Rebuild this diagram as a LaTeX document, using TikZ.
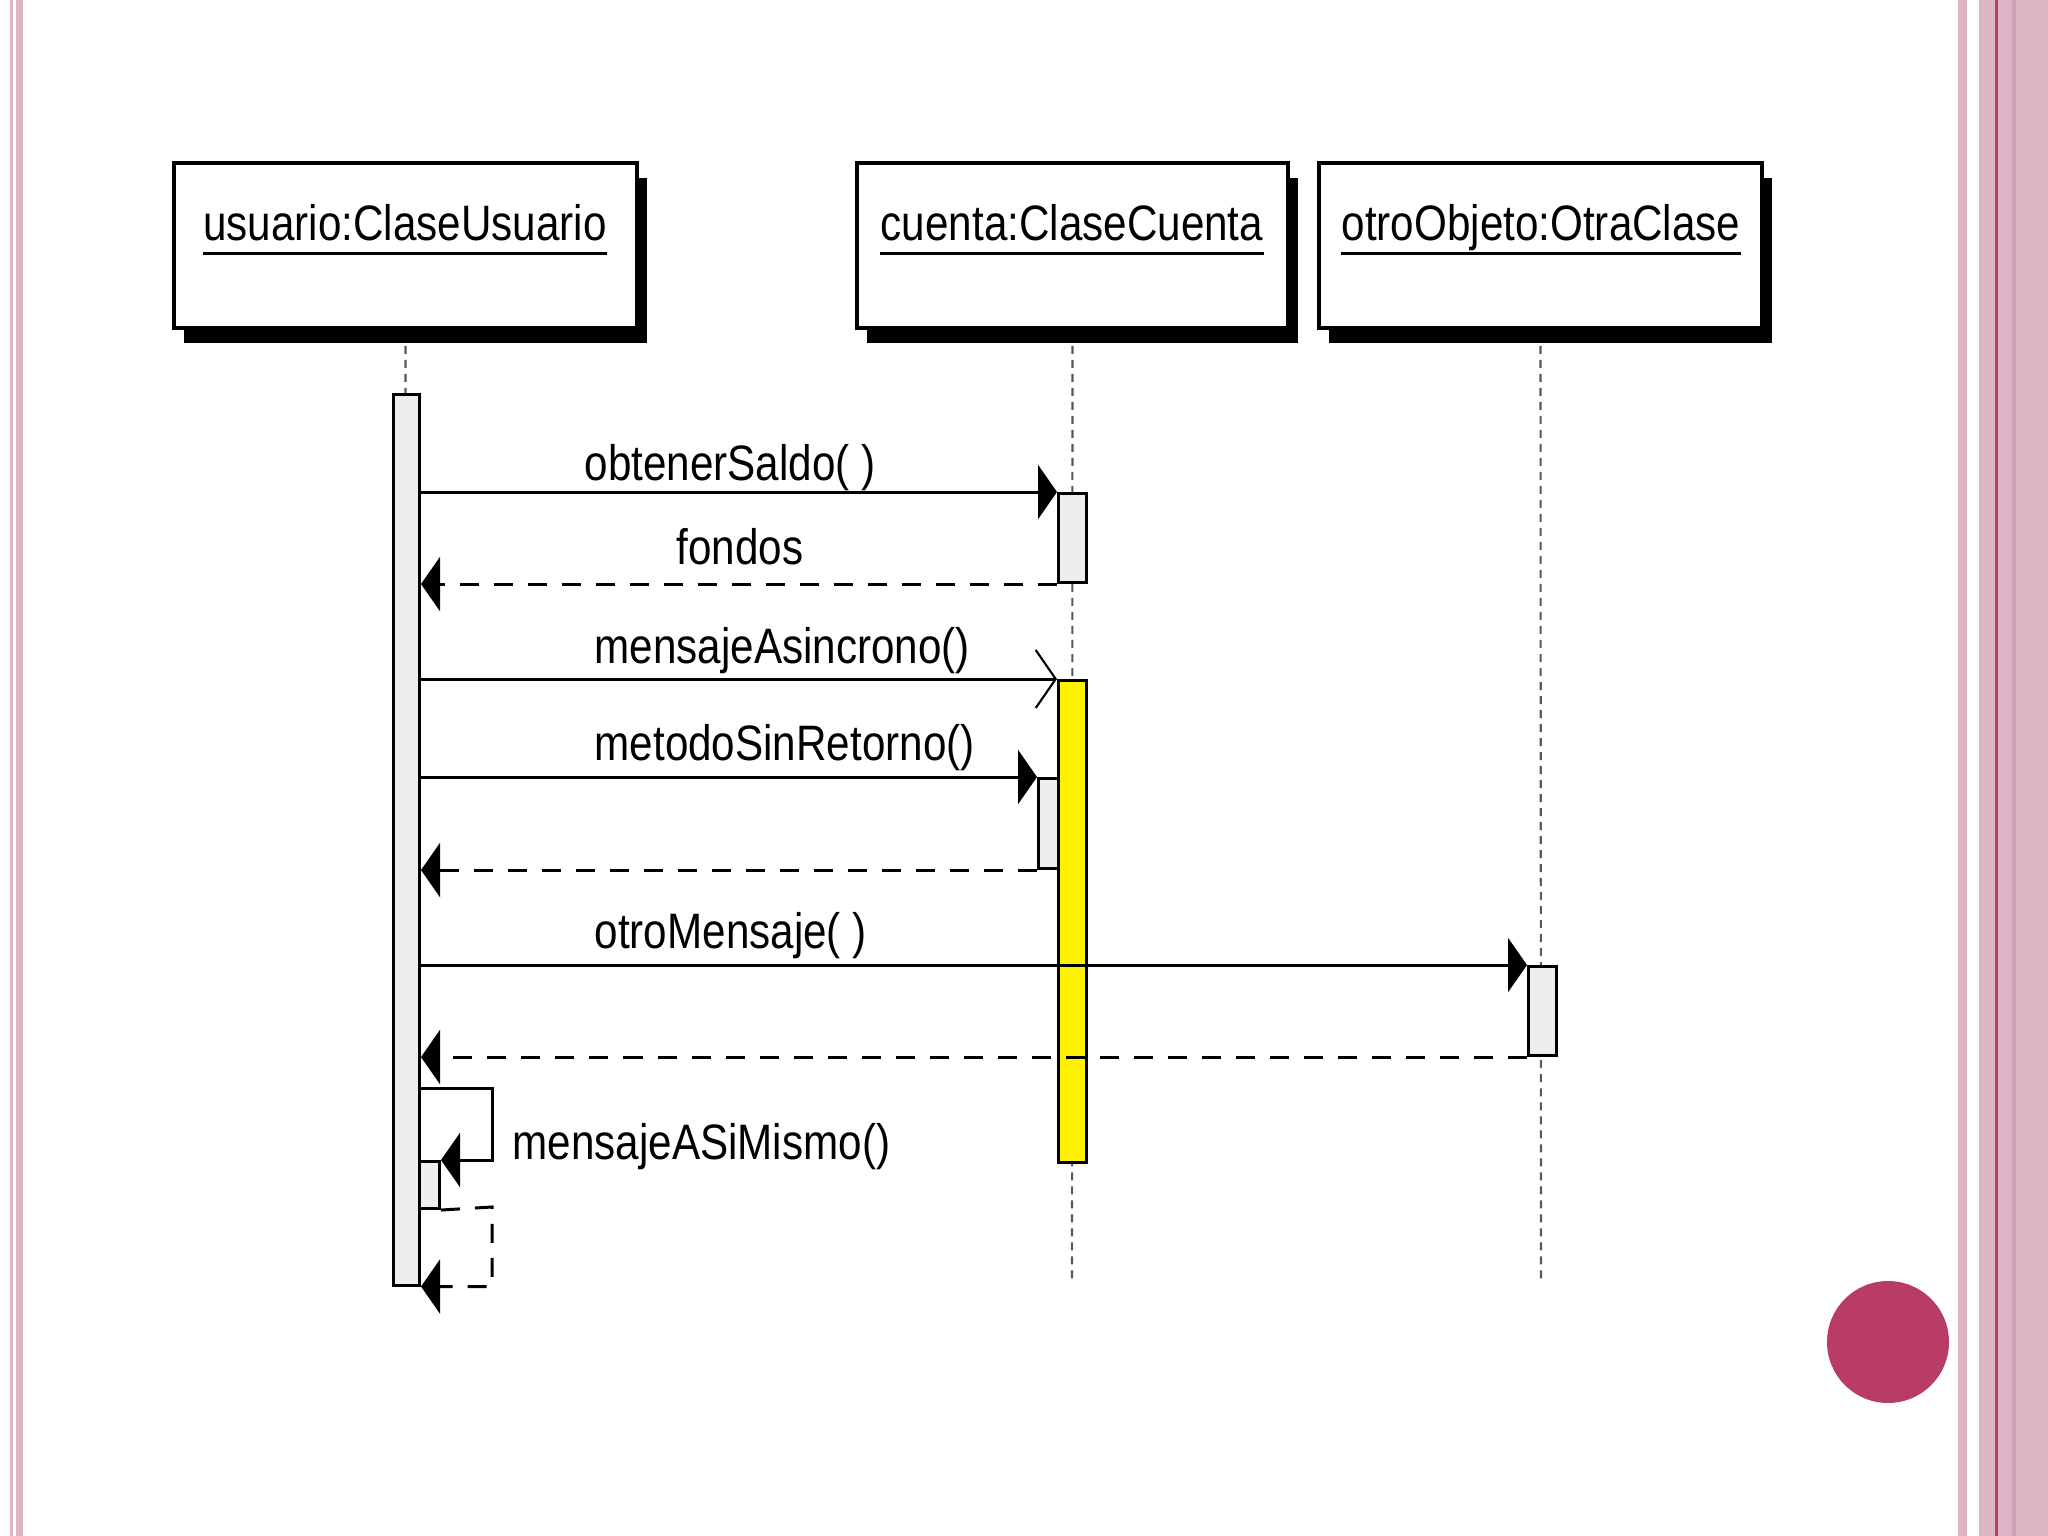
\documentclass[tikz,border=0pt]{standalone}
\usepackage{fontspec}
\setmainfont{Liberation Sans}
\usepackage{tikz}
\usetikzlibrary{positioning,arrows.meta,shadows}
\definecolor{slidepink}{RGB}{221,182,198}
\definecolor{slidepinkdark}{RGB}{208,160,180}
\definecolor{slidered}{RGB}{185,60,100}
\definecolor{actgray}{RGB}{238,238,238}
\newcommand{\umltext}[1]{\scalebox{1}[1.18]{#1}}

\begin{document}
\begin{tikzpicture}[x=0.01cm, y=-0.01cm,
            objbox/.style={draw, line width=1pt, fill=white, minimum height=1.65cm, inner sep=0pt,
                drop shadow={shadow xshift=0.1cm, shadow yshift=-0.15cm, opacity=1, fill=black}},
            objname/.style={font=\fontsize{12pt}{14pt}\selectfont, inner sep=0pt, anchor=base, text depth=0.13cm},
            lifeline/.style={draw=black!65, line width=0.6pt, dash pattern=on 0.08cm off 0.06cm},
            actbar/.style={draw, line width=0.85pt, fill=actgray, inner sep=0pt, anchor=north west},
            callmsg/.style={line width=0.85pt, -{Triangle[length=0.19cm, width=0.54cm]}},
            retmsg/.style={line width=0.85pt, dash pattern=on 0.19cm off 0.15cm, -{Triangle[length=0.19cm, width=0.54cm]}},
            asyncmsg/.style={line width=0.85pt, -{Straight Barb[length=0.2cm, width=0.58cm, line width=0.6pt]}},
            msglabel/.style={font=\fontsize{12pt}{14pt}\selectfont, inner sep=0pt, anchor=base west}
        ]
            \useasboundingbox (0,0) rectangle (2048,1536);

            % Slide
            \fill[white] (0,0) rectangle (2048,1536);
            \fill[slidepink] (10,0) rectangle (13,1536);
            \fill[slidepink] (16,0) rectangle (23,1536);
            \fill[slidepink] (1958,0) rectangle (1967,1536);
            \fill[slidepink] (1979,0) rectangle (2048,1536);
            \fill[slidepinkdark] (2012,0) rectangle (2016,1536);
            \fill[slidered] (1995,0) rectangle (1998,1536);
            \fill[slidered] (1888,1342) circle (61);

            % Objects
            \node[objbox, minimum width=4.63cm] (usr) at (405.5,245.5) {};
            \node[objbox, minimum width=4.31cm] (cta) at (1072.5,245.5) {};
            \node[objbox, minimum width=4.43cm] (otr) at (1540.5,245.5) {};
            \node[objname] (usrname) at (405,240) {\umltext{usuario:ClaseUsuario}};
            \node[objname] (ctaname) at (1072,240) {\umltext{cuenta:ClaseCuenta}};
            \node[objname] (otrname) at (1541,240) {\umltext{otroObjeto:OtraClase}};
            \foreach \n in {usrname,ctaname,otrname}
                \draw[line width=0.85pt] (\n.south west) -- (\n.south east);

            % Lifelines
            \coordinate (usrend) at (405,1283);
            \coordinate (ctaend) at (1072,1280);
            \coordinate (otrend) at (1541,1280);
            \draw[lifeline] ([yshift=-0.16cm]usr.south) -- (usrend);
            \draw[lifeline] ([yshift=-0.16cm]cta.south) -- (ctaend);
            \draw[lifeline] ([yshift=-0.16cm]otr.south) -- (otrend);

            % Activations
            \node[actbar, minimum width=0.26cm, minimum height=8.90cm] (usrbar) at (392,393) {};
            \node[actbar, minimum width=0.28cm, minimum height=0.89cm] (saldobar) at (1057,492) {};
            \node[actbar, minimum width=0.28cm, minimum height=4.82cm, fill=yellow] (asincbar) at (1057,679) {};
            \node[actbar, minimum width=0.20cm, minimum height=0.90cm] (sinretbar) at (1037,777) {};
            \node[actbar, minimum width=0.28cm, minimum height=0.89cm] (otrbar) at (1527,965) {};
            \node[actbar, minimum width=0.20cm, minimum height=0.47cm] (selfbar) at (418,1160) {};

            % Messages
            \draw[callmsg] (usrbar.east |- saldobar.north west) -- (saldobar.north west);
            \draw[retmsg] (saldobar.south west) -- (usrbar.east |- saldobar.south west);
            \draw[asyncmsg] (usrbar.east |- asincbar.north west) -- (asincbar.north west);
            \draw[callmsg] (usrbar.east |- sinretbar.north west) -- (sinretbar.north west);
            \draw[retmsg] (sinretbar.south west) -- (usrbar.east |- sinretbar.south west);
            \draw[callmsg] (usrbar.east |- otrbar.north west) -- (otrbar.north west);
            \draw[retmsg] (otrbar.south west) -- (usrbar.east |- otrbar.south west);

            % Self call
            \coordinate (selfloop) at (492,1088);
            \coordinate (selfret) at (492,1207);
            \draw[callmsg] (usrbar.east |- selfloop) -- (selfloop) |- (selfbar.north east);
            \draw[retmsg] (selfbar.south east) -- (selfret) |- (usrbar.south east);

            % Labels
            \node[msglabel] (lblsaldo) at (584,480) {\umltext{obtenerSaldo( )}};
            \node[msglabel] (lblfondos) at (676,564) {\umltext{fondos}};
            \node[msglabel] (lblasinc) at (594,663) {\umltext{mensajeAsincrono()}};
            \node[msglabel] (lblsinret) at (594,760) {\umltext{metodoSinRetorno()}};
            \node[msglabel] (lblotro) at (594,948) {\umltext{otroMensaje( )}};
            \node[msglabel] (lblself) at (512,1159) {\umltext{mensajeASiMismo()}};
        \end{tikzpicture}
\end{document}
